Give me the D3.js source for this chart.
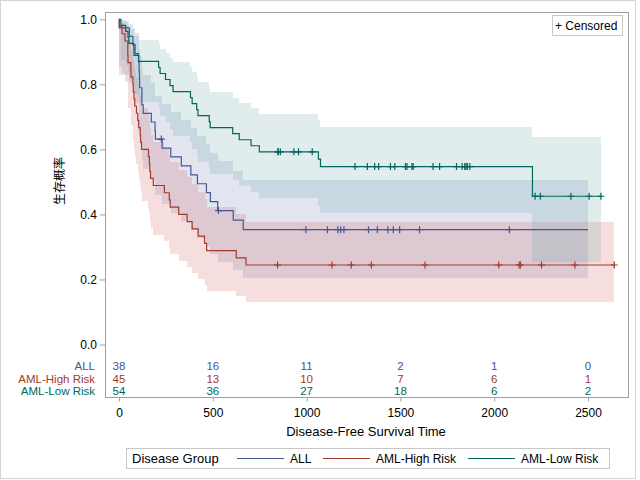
<!DOCTYPE html>
<html>
<head>
<meta charset="utf-8">
<script src="https://cdn.jsdelivr.net/npm/d3@7"></script>
<style>
  body { margin: 0; background: #fff; }
  text { font-family: "Liberation Sans", Arial, sans-serif; fill: #000; }
</style>
</head>
<body>
<svg id="km-plot"></svg>
<script>
// Disease-free survival times by group (events and censored observations)
const groups = ["ALL", "AML-High Risk", "AML-Low Risk"];

const allEvents = [1, 55, 74, 86, 104, 107, 109, 110, 122, 122, 129, 172, 192, 194, 230, 276, 332, 383, 418, 466, 487, 526, 609, 662];
const allCensored = [226, 530, 996, 1111, 1167, 1182, 1199, 1330, 1377, 1433, 1462, 1496, 1602, 2081];

const highEvents = [2, 16, 32, 47, 47, 48, 63, 64, 74, 76, 80, 84, 93, 100, 105, 113, 115, 120, 157, 162, 164, 168, 183, 242, 268, 273, 318, 363, 390, 422, 456, 467, 625, 677];
const highCensored = [845, 1136, 1238, 1345, 1631, 2024, 2133, 2140, 2252, 2430, 2640];

const lowEvents = [10, 35, 48, 53, 79, 80, 105, 211, 219, 248, 272, 288, 381, 390, 414, 421, 481, 486, 606, 641, 704, 748, 1063, 1074, 2204];
const lowCensored = [847, 848, 860, 932, 957, 1030, 1258, 1324, 1363, 1384, 1447, 1470, 1527, 1535, 1562, 1568, 1674, 1709, 1799, 1829, 1843, 1850, 1857, 1870, 2218, 2246, 2409, 2506, 2569];

// Number at risk table
const atRiskTimes = [0, 500, 1000, 1500, 2000, 2500];
const atRiskAll = [38, 16, 11, 2, 1, 0];
const atRiskHigh = [45, 13, 10, 7, 6, 1];
const atRiskLow = [54, 36, 27, 18, 6, 2];

const yTicks = [0, 0.2, 0.4, 0.6, 0.8, 1.0];

// Styles
const lineColors = ["#445694", "#A23A2E", "#01665E"];
const bandColors = ["#6F7EB3", "#D05B5B", "#66A5A0"];

const svg = d3.select("#km-plot").attr("width", 640).attr("height", 480);

// Outer border
svg.append("rect")
  .attr("x", 0.5).attr("y", 0.5)
  .attr("width", 635).attr("height", 478)
  .attr("fill", "#fff")
  .attr("stroke", "#d4d4d4");

const frame = { left: 105, top: 12, right: 628, bottom: 397 };

const xScale = d3.scaleLinear().domain([0, 2500]).range([119, 588]);
const yScale = d3.scaleLinear().domain([0, 1]).range([344.5, 19.3]);

// Kaplan-Meier estimate with log-log pointwise 95% limits
function kaplanMeier(events, censored, endTime) {
  const times = events.concat(censored);
  const counts = d3.rollup(events, (v) => v.length, (d) => d);
  const eventTimes = Array.from(counts.keys()).sort((a, b) => a - b);
  let s = 1;
  let v = 0;
  const steps = [{ t: 0, s: 1 }];
  eventTimes.forEach((t) => {
    const n = times.filter((x) => x >= t).length;
    const d = counts.get(t);
    s *= 1 - d / n;
    v += d / (n * (n - d));
    const z = (1.96 * Math.sqrt(v)) / Math.log(s);
    steps.push({ t: t, s: s, lo: Math.pow(s, Math.exp(-z)), hi: Math.pow(s, Math.exp(z)) });
  });
  const last = steps[steps.length - 1];
  const end = Math.max(endTime, d3.max(times));
  steps.push({ t: end, s: last.s, lo: last.lo, hi: last.hi });
  return steps;
}

const curves = [
  kaplanMeier(allEvents, allCensored, d3.max(atRiskTimes)),
  kaplanMeier(highEvents, highCensored, d3.max(atRiskTimes)),
  kaplanMeier(lowEvents, lowCensored, d3.max(atRiskTimes)),
];
const censoredSets = [allCensored, highCensored, lowCensored];
const atRiskRows = [atRiskAll, atRiskHigh, atRiskLow];

const band = d3.area()
  .x((d) => xScale(d.t))
  .y0((d) => yScale(d.lo))
  .y1((d) => yScale(d.hi))
  .curve(d3.curveStepAfter);

const line = d3.line()
  .x((d) => xScale(d.t))
  .y((d) => yScale(d.s))
  .curve(d3.curveStepAfter);

// Confidence bands
curves.forEach((steps, i) => {
  svg.append("path")
    .datum(steps.slice(1))
    .attr("d", band)
    .attr("fill", bandColors[i])
    .attr("fill-opacity", 0.2)
    .attr("shape-rendering", "crispEdges");
});

// Survival curves
curves.forEach((steps, i) => {
  svg.append("path")
    .datum(steps)
    .attr("d", line)
    .attr("fill", "none")
    .attr("stroke", lineColors[i])
    .attr("stroke-width", 1.2);
});

// Censor marks
const survivalAt = (steps, t) => {
  const idx = d3.bisector((d) => d.t).right(steps, t) - 1;
  return steps[Math.max(idx, 0)].s;
};
censoredSets.forEach((times, i) => {
  svg.append("g")
    .selectAll("path")
    .data(times)
    .join("path")
    .attr("transform", (t) => `translate(${xScale(t)},${yScale(survivalAt(curves[i], t))})`)
    .attr("d", "M-3.5,0H3.5M0,-3.5V3.5")
    .attr("fill", "none")
    .attr("stroke", lineColors[i])
    .attr("stroke-width", 1.2);
});

// Frame
svg.append("rect")
  .attr("x", frame.left + 0.5).attr("y", frame.top + 0.5)
  .attr("width", frame.right - frame.left).attr("height", frame.bottom - frame.top)
  .attr("fill", "none")
  .attr("stroke", "#a0a0a0");

// Y axis
const yAxis = svg.append("g")
  .attr("transform", `translate(${frame.left},0)`)
  .call(d3.axisLeft(yScale).tickValues(yTicks).tickFormat(d3.format(".1f")).tickSize(5).tickPadding(3));
yAxis.select(".domain").remove();
yAxis.selectAll("line").attr("stroke", "#a0a0a0");
yAxis.selectAll("text").style("font-size", "12px").attr("font-family", null);

// X axis
const xAxis = svg.append("g")
  .attr("transform", `translate(0,${frame.bottom})`)
  .call(d3.axisBottom(xScale).tickValues(atRiskTimes).tickFormat(d3.format("d")).tickSize(4.5).tickPadding(7));
xAxis.select(".domain").remove();
xAxis.selectAll("line").attr("stroke", "#a0a0a0");
xAxis.selectAll("text").style("font-size", "12px").attr("font-family", null);

// Axis labels
svg.append("text")
  .attr("x", 366).attr("y", 436)
  .attr("text-anchor", "middle")
  .style("font-size", "13px")
  .text("Disease-Free Survival Time");

svg.append("text")
  .attr("transform", "translate(64,181) rotate(-90)")
  .attr("text-anchor", "middle")
  .style("font-family", "'Noto Sans CJK SC', sans-serif")
  .style("font-size", "12px")
  .text("生存概率");

// Number at risk rows
const rowBase = [369.5, 382.5, 395];
groups.forEach((g, i) => {
  svg.append("text")
    .attr("x", 95).attr("y", rowBase[i])
    .attr("text-anchor", "end")
    .style("font-size", "11.5px")
    .style("fill", lineColors[i])
    .text(g);
  svg.append("g")
    .selectAll("text")
    .data(atRiskRows[i])
    .join("text")
    .attr("x", (d, j) => xScale(atRiskTimes[j]))
    .attr("y", rowBase[i])
    .attr("text-anchor", "middle")
    .style("font-size", "11.5px")
    .style("fill", lineColors[i])
    .text((d) => d);
});

// Censored legend
svg.append("rect")
  .attr("x", 552.5).attr("y", 15.5)
  .attr("width", 70).attr("height", 20)
  .attr("fill", "#fff")
  .attr("stroke", "#c8c8c8");
svg.append("text")
  .attr("x", 555).attr("y", 30)
  .style("font-size", "12px")
  .text("+ Censored");

// Group legend
svg.append("rect")
  .attr("x", 126.5).attr("y", 448.5)
  .attr("width", 483).attr("height", 20)
  .attr("fill", "#fff")
  .attr("stroke", "#c8c8c8");
svg.append("text")
  .attr("x", 132).attr("y", 463)
  .style("font-size", "13px")
  .text("Disease Group");

const legendX = [237, 323, 468];
groups.forEach((g, i) => {
  svg.append("line")
    .attr("x1", legendX[i]).attr("x2", legendX[i] + 47)
    .attr("y1", 458.5).attr("y2", 458.5)
    .attr("stroke", lineColors[i])
    .attr("stroke-width", 1.2);
  svg.append("text")
    .attr("x", legendX[i] + 53).attr("y", 463)
    .style("font-size", "12px")
    .text(g);
});
</script>
</body>
</html>
